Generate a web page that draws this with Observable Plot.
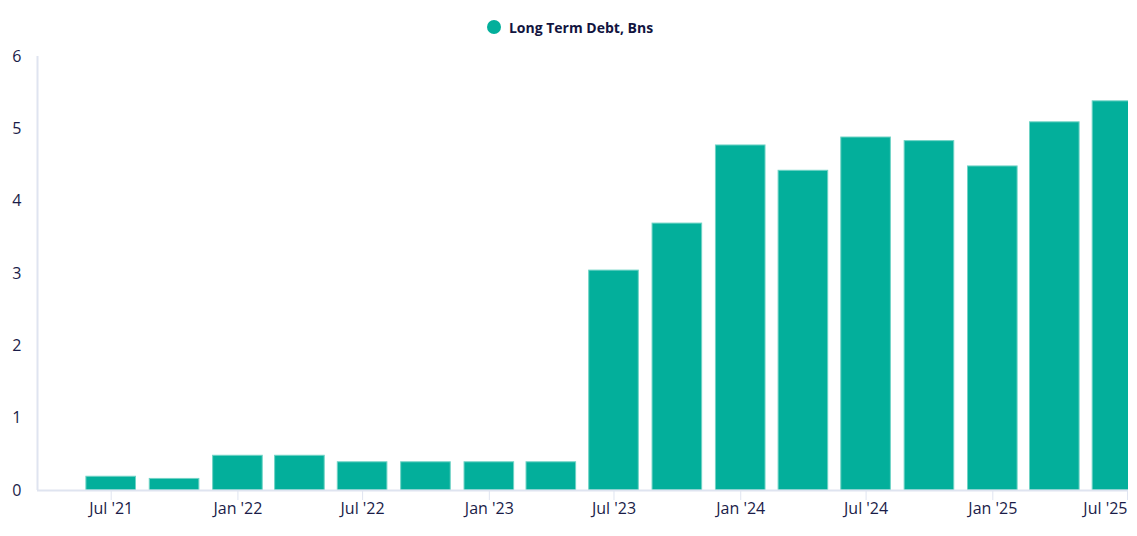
<!DOCTYPE html>
<html>
<head>
<meta charset="utf-8">
<script src="https://cdn.jsdelivr.net/npm/d3@7"></script>
<script src="https://cdn.jsdelivr.net/npm/@observablehq/plot@0.6"></script>
<style>
  html, body { margin: 0; padding: 0; background: #fff; }
  body { width: 1137px; height: 536px; overflow: hidden; font-family: "Open Sans", sans-serif; }
  #legend { height: 40px; display: flex; align-items: center; justify-content: center; padding-left: 3px; box-sizing: border-box; padding-top: 14px; }
  #legend .dot { width: 14px; height: 14px; border-radius: 50%; background: #03af9b; margin-right: 8px; }
  #legend .lbl { font-size: 14px; font-weight: 700; color: #12143f; letter-spacing: 0px; }
</style>
</head>
<body>
<div id="legend"><span class="dot"></span><span class="lbl">Long Term Debt, Bns</span></div>
<div id="chart"></div>
<script>
const seriesName = "Long Term Debt, Bns";
const periods = ["2021-07-01","2021-10-01","2022-01-01","2022-04-01","2022-07-01","2022-10-01","2023-01-01","2023-04-01","2023-07-01","2023-10-01","2024-01-01","2024-04-01","2024-07-01","2024-10-01","2025-01-01","2025-04-01","2025-07-01"];
const values = [0.19, 0.16, 0.48, 0.48, 0.39, 0.39, 0.39, 0.39, 3.04, 3.69, 4.77, 4.42, 4.88, 4.83, 4.48, 5.09, 5.38];
const tickDates = ["2021-07-01","2022-01-01","2022-07-01","2023-01-01","2023-07-01","2024-01-01","2024-07-01","2025-01-01","2025-07-01"];
const yTicks = [0, 1, 2, 3, 4, 5, 6];
const xDomain = ["2021-03-16", "2025-07-17"];

const parse = d3.utcParse("%Y-%m-%d");
const data = periods.map((p, i) => ({date: parse(p), value: values[i]}));
const halfBar = 36; // days
const fmt = d => d3.utcFormat("%b")(d) + " '" + d3.utcFormat("%y")(d);
const x0 = parse(xDomain[0]);
const ticks = tickDates.map(parse);

const axisColor = "#dfe4f0";
const textColor = "#1a1c48";

const chart = Plot.plot({
  width: 1137,
  height: 496,
  marginTop: 16,
  marginBottom: 46,
  marginLeft: 37,
  marginRight: 9,
  style: {fontFamily: "'Open Sans', sans-serif", fontSize: "16px", color: textColor, background: "#fff", overflow: "visible"},
  x: {type: "utc", domain: xDomain.map(parse)},
  y: {domain: [0, 6]},
  marks: [
    Plot.rectY(data, {
      x1: d => d3.utcDay.offset(d.date, -halfBar),
      x2: d => d3.utcDay.offset(d.date, halfBar),
      y: "value",
      fill: "#03af9b",
      stroke: "#6fd3c5",
      strokeWidth: 1,
      clip: true
    }),
    Plot.ruleX([x0], {y1: 0, y2: 6, stroke: axisColor, strokeWidth: 2}),
    Plot.ruleY([0], {stroke: axisColor, strokeWidth: 2}),
    Plot.axisX({
      ticks: ticks.slice(0, -1),
      tickFormat: fmt,
      tickSize: 10,
      tickPadding: 2,
      stroke: axisColor,
      fill: textColor,
      fontSize: 16,
      label: null
    }),
    Plot.axisX({
      ticks: ticks.slice(-1),
      tickFormat: fmt,
      tickSize: 10,
      tickPadding: 2,
      stroke: axisColor,
      fill: textColor,
      fontSize: 16,
      textAnchor: "end",
      dx: 10,
      label: null
    }),
    Plot.axisY({
      ticks: yTicks,
      tickFormat: d3.format("d"),
      tickSize: 0,
      tickPadding: 16,
      fill: textColor,
      fontSize: 16,
      label: null
    })
  ]
});
document.getElementById("chart").appendChild(chart);
</script>
</body>
</html>
